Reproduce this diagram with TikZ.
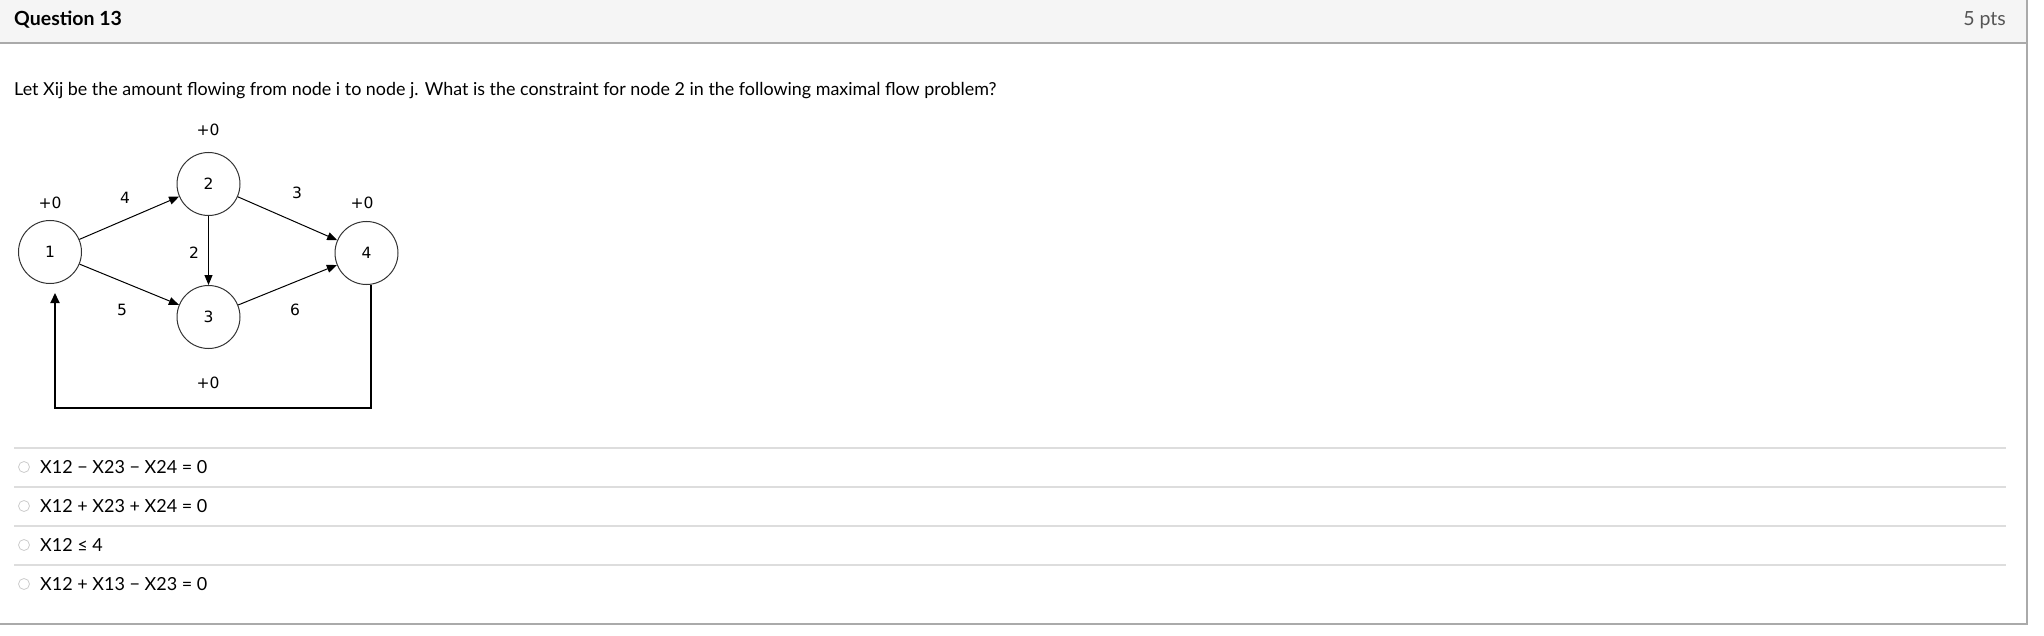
\documentclass[tikz,border=0pt]{standalone}
\usepackage{fontspec}
\setmainfont{Lato}
\newfontfamily\diagfont{DejaVu Sans}
\usetikzlibrary{arrows.meta}
\definecolor{hdrbg}{HTML}{F5F5F5}
\definecolor{frame}{HTML}{AAAAAA}
\definecolor{sep}{HTML}{DDDDDD}
\definecolor{radio}{HTML}{CCCCCC}
\definecolor{ptsgray}{HTML}{555555}
\tikzset{
  flownode/.style={circle, draw=black!80, line width=1pt, minimum size=63pt, inner sep=0pt, font=\diagfont\fontsize{15.5}{18}\selectfont},
  dlabel/.style={inner sep=0pt, font=\diagfont\fontsize{15.5}{18}\selectfont},
  flowedge/.style={line width=1pt, -{Triangle[length=10pt,width=8pt]}},
  optext/.style={anchor=base west, inner sep=0pt, font=\fontsize{18}{22}\selectfont},
  radiobtn/.style={circle, draw=radio, line width=0.8pt, minimum size=11pt, inner sep=0pt},
  seprule/.style={draw=sep, line width=2pt},
}
\begin{document}
\begin{tikzpicture}[x=1pt,y=-1pt]
\useasboundingbox (0,0) rectangle (2044,636);
% card frame and header
\fill[hdrbg] (0,0) rectangle (2027,43);
\draw[frame, line width=2pt] (0,43.5) -- (2027,43.5);
\draw[frame, line width=2pt] (2027,0) -- (2027,624) -- (0,624);
\node[anchor=base west, inner sep=0pt, font=\bfseries\fontsize{19.5}{23}\selectfont] (title) at (14,26) {Question 13};
\node[anchor=base east, inner sep=0pt, text=ptsgray, font=\fontsize{19.5}{23}\selectfont] (pts) at (2006,26) {5 pts};
\node[anchor=base west, inner sep=0pt, font=\fontsize{17.9}{21}\selectfont] (q) at (14,96) {Let Xij be the amount flowing from node i to node j. What is the constraint for node 2 in the following maximal flow problem?};
% network
\node[flownode] (n1) at (50,252) {1};
\node[flownode] (n2) at (208.5,184) {2};
\node[flownode] (n3) at (208.5,317) {3};
\node[flownode] (n4) at (366.5,253) {4};
\node[dlabel] (l1) at (50,203) {+0};
\node[dlabel] (l2) at (208,130) {+0};
\node[dlabel] (l3) at (208,383) {+0};
\node[dlabel] (l4) at (362,203) {+0};
\draw[flowedge] (n1) -- (n2);
\draw[flowedge] (n2) -- (n4);
\draw[flowedge] (n1) -- (n3);
\draw[flowedge] (n3) -- (n4);
\draw[flowedge] (n2) -- (n3);
\node[dlabel] (e12) at (125,198) {4};
\node[dlabel] (e24) at (297,193) {3};
\node[dlabel] (e23) at (194,253) {2};
\node[dlabel] (e13) at (122,310) {5};
\node[dlabel] (e34) at (295,310) {6};
\coordinate (r1) at (370.5,408);
\coordinate (r2) at (55,408);
\coordinate (r3) at (55,293);
\draw[line width=2pt, -{Triangle[length=10pt,width=9pt]}] ([xshift=4pt]n4.south) -- (r1) -- (r2) -- (r3);
% answer options
\foreach \yy in {448,487,526,565} \draw[seprule] (14,\yy) -- (2006,\yy);
\node[radiobtn] (rb1) at (24,467) {};
\node[radiobtn] (rb2) at (24,506) {};
\node[radiobtn] (rb3) at (24,545) {};
\node[radiobtn] (rb4) at (24,584) {};
\node[optext] (o1) at (40,473) {X12 − X23 − X24 = 0};
\node[optext] (o2) at (40,512) {X12 + X23 + X24 = 0};
\node[optext] (o3) at (40,551) {X12 ≤ 4};
\node[optext] (o4) at (40,590) {X12 + X13 − X23 = 0};
\end{tikzpicture}
\end{document}
